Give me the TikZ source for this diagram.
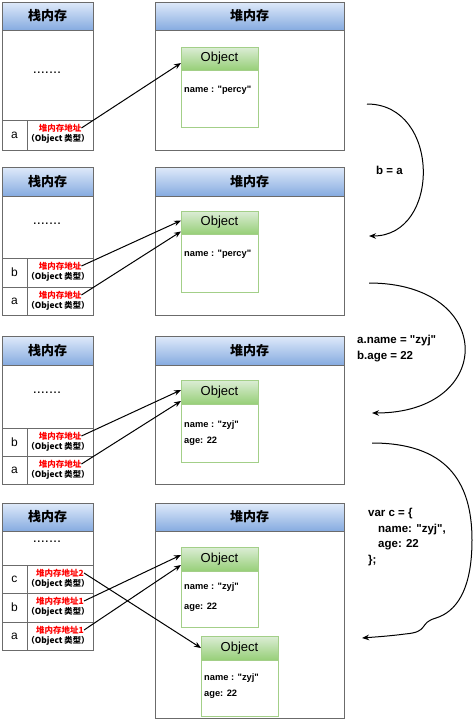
\documentclass[tikz,border=0pt]{standalone}
\usepackage{fontspec}
\setmainfont{Liberation Sans}
\newfontfamily\cjk{Noto Sans CJK SC}
\usetikzlibrary{calc,arrows.meta}
\definecolor{hdrtop}{HTML}{DFEAFA}
\definecolor{hdrbot}{HTML}{86ABE0}
\definecolor{objtop}{HTML}{DCEDD6}
\definecolor{objbot}{HTML}{97CF78}
\definecolor{objline}{HTML}{A3CF88}
\definecolor{boxline}{HTML}{6B6B6B}
\newcommand\qq{\XeTeXglyph\XeTeXcharglyph"22\relax}
\newcommand\mybox[7]{\node[#6, minimum width={(#4-#2)*1pt}, minimum height={(#5-#3)*1pt}] (#1) at ({(#2+#4)/2},{(#3+#5)/2}) {#7};}
\tikzset{
  cell/.style={draw=boxline, line width=0.9pt, inner sep=0, outer sep=0, fill=white},
  memhdr/.style={draw=boxline, line width=0.9pt, inner sep=0, outer sep=0, top color=hdrtop, bottom color=hdrbot, font=\cjk\bfseries\fontsize{13}{15}\selectfont},
  objhdr/.style={draw=objline, line width=0.9pt, inner sep=0, outer sep=0, top color=objtop, bottom color=objbot, font=\fontsize{13}{15}\selectfont},
  objbody/.style={draw=objline, line width=0.9pt, inner sep=0, outer sep=0, fill=white},
  varlbl/.style={font=\fontsize{12}{14}\selectfont},
  dotsrow/.style={font=\fontsize{14.5}{15}\selectfont, inner sep=0},
  addr/.style={text=red, font=\cjk\bfseries\fontsize{8.5}{9}\selectfont, inner sep=0},
  typ/.style={font=\cjk\bfseries\fontsize{8.3}{9}\selectfont, inner sep=0},
  field/.style={font=\bfseries\fontsize{9.3}{10}\selectfont, anchor=west, inner sep=0},
  ptr/.style={-{Stealth[length=7pt,width=5.5pt]}, line width=1pt},
  note/.style={font=\bfseries\fontsize{11.5}{16}\selectfont, anchor=west, inner sep=0, align=left},
}
\begin{document}
\begin{tikzpicture}[x=1pt,y=-1pt]
\fill[white] (0,0) rectangle (474,720);
\useasboundingbox (0,0) rectangle (474,720);
% ---------- panel 1
\mybox{s1h}{2}{2}{93}{30}{memhdr}{栈内存}
\mybox{s1b}{2}{30}{93}{120}{cell}{}
\mybox{s1la}{2}{120}{27}{150}{cell,varlbl}{a}
\mybox{s1ca}{27}{120}{93}{150}{cell}{}
\node[dotsrow] (s1d) at (47,73) {.......};
\node[addr] (s1ra) at (60,128) {堆内存地址};
\node[typ] (s1ta) at (58,139) {（Object 类型）};
\mybox{h1h}{155}{2}{344}{30}{memhdr}{堆内存}
\mybox{h1b}{155}{30}{344}{150}{cell}{}
\mybox{o1h}{181}{47}{258}{70}{objhdr}{Object}
\mybox{o1b}{181}{70}{258}{127}{objbody}{}
\node[field] (o1n) at (184,90) {name : \qq percy\qq};
\draw[ptr] (s1ra.east) -- ($(o1h.west)+(0,4.5)$);
% ---------- panel 2
\mybox{s2h}{2}{167}{93}{196}{memhdr}{栈内存}
\mybox{s2b}{2}{196}{93}{258}{cell}{}
\mybox{s2lb}{2}{258}{27}{287}{cell,varlbl}{b}
\mybox{s2cb}{27}{258}{93}{287}{cell}{}
\mybox{s2la}{2}{287}{27}{315}{cell,varlbl}{a}
\mybox{s2ca}{27}{287}{93}{315}{cell}{}
\node[dotsrow] (s2d) at (47,224) {.......};
\node[addr] (s2rb) at (60,266) {堆内存地址};
\node[typ] (s2tb) at (58,277) {（Object 类型）};
\node[addr] (s2ra) at (60,295) {堆内存地址};
\node[typ] (s2ta) at (58,306) {（Object 类型）};
\mybox{h2h}{155}{167}{344}{196}{memhdr}{堆内存}
\mybox{h2b}{155}{196}{344}{315}{cell}{}
\mybox{o2h}{181}{211}{258}{234}{objhdr}{Object}
\mybox{o2b}{181}{234}{258}{292}{objbody}{}
\node[field] (o2n) at (184,254) {name : \qq percy\qq};
\draw[ptr] (s2rb.east) -- ($(o2h.west)+(0,-2)$);
\draw[ptr] (s2ra.east) -- ($(o2h.west)+(0,9)$);
% ---------- panel 3
\mybox{s3h}{2}{336}{93}{365}{memhdr}{栈内存}
\mybox{s3b}{2}{365}{93}{428}{cell}{}
\mybox{s3lb}{2}{428}{27}{456}{cell,varlbl}{b}
\mybox{s3cb}{27}{428}{93}{456}{cell}{}
\mybox{s3la}{2}{456}{27}{484}{cell,varlbl}{a}
\mybox{s3ca}{27}{456}{93}{484}{cell}{}
\node[dotsrow] (s3d) at (47,393) {.......};
\node[addr] (s3rb) at (60,436) {堆内存地址};
\node[typ] (s3tb) at (58,447) {（Object 类型）};
\node[addr] (s3ra) at (60,464) {堆内存地址};
\node[typ] (s3ta) at (58,475) {（Object 类型）};
\mybox{h3h}{155}{336}{344}{365}{memhdr}{堆内存}
\mybox{h3b}{155}{365}{344}{484}{cell}{}
\mybox{o3h}{181}{380}{258}{404}{objhdr}{Object}
\mybox{o3b}{181}{404}{258}{462}{objbody}{}
\node[field] (o3n) at (184,425) {name : \qq zyj\qq};
\node[field] (o3a) at (184,441) {age: 22};
\draw[ptr] (s3rb.east) -- ($(o3h.west)+(0,-2)$);
\draw[ptr] (s3ra.east) -- ($(o3h.west)+(0,9)$);
% ---------- panel 4
\mybox{s4h}{2}{503}{93}{531}{memhdr}{栈内存}
\mybox{s4b}{2}{531}{93}{565}{cell}{}
\mybox{s4lc}{2}{565}{27}{593}{cell,varlbl}{c}
\mybox{s4cc}{27}{565}{93}{593}{cell}{}
\mybox{s4lb}{2}{593}{27}{622}{cell,varlbl}{b}
\mybox{s4cb}{27}{593}{93}{622}{cell}{}
\mybox{s4la}{2}{622}{27}{650}{cell,varlbl}{a}
\mybox{s4ca}{27}{622}{93}{650}{cell}{}
\node[dotsrow] (s4d) at (47,542) {.......};
\node[addr] (s4rc) at (60,573) {堆内存地址2};
\node[typ] (s4tc) at (58,584) {（Object 类型）};
\node[addr] (s4rb) at (60,601) {堆内存地址1};
\node[typ] (s4tb) at (58,612) {（Object 类型）};
\node[addr] (s4ra) at (60,630) {堆内存地址1};
\node[typ] (s4ta) at (58,641) {（Object 类型）};
\mybox{h4h}{155}{503}{344}{531}{memhdr}{堆内存}
\mybox{h4b}{155}{531}{344}{718}{cell}{}
\mybox{o4h}{181}{547}{258}{571}{objhdr}{Object}
\mybox{o4b}{181}{571}{258}{627}{objbody}{}
\node[field] (o4n) at (184,587) {name : \qq zyj\qq};
\node[field] (o4a) at (184,607) {age: 22};
\mybox{o5h}{201}{636}{278}{660}{objhdr}{Object}
\mybox{o5b}{201}{660}{278}{716}{objbody}{}
\node[field] (o5n) at (204,678) {name : \qq zyj\qq};
\node[field] (o5a) at (204,694) {age: 22};
\draw[ptr] (s4rb.east) -- ($(o4h.west)+(0,-4)$);
\draw[ptr] (s4ra.east) -- ($(o4h.west)+(0,6)$);
\draw[ptr] (s4rc.east) -- (o5h.west);
% ---------- transitions
\coordinate (c1s) at (367,104);
\coordinate (c1e) at (369,236);
\draw[ptr] (c1s) .. controls (441,104) and (441,236) .. (c1e);
\node[note] (n1) at (376,170) {b = a};
\coordinate (c2s) at (369,283);
\coordinate (c2e) at (372,413);
\draw[ptr] (c2s) .. controls (496,283) and (496,413) .. (c2e);
\node[note] (n2) at (357,349) {a.name = \qq zyj\qq\\b.age = 22};
\coordinate (c3s) at (372,443);
\coordinate (c3e) at (362,638);
\draw[ptr] (c3s) .. controls (445,443) and (472,480) .. (472,540)
  .. controls (472,592) and (455,612) .. (436,618)
  .. controls (418,623) and (430,632) .. (405,634)
  .. controls (390,636) and (375,637) .. (c3e);
\node[note, font=\bfseries\fontsize{11.5}{15.5}\selectfont] (n3) at (368,537) {var c = \{\\\hspace*{10pt}name: \qq zyj\qq,\\\hspace*{10pt}age: 22\\\};};
\end{tikzpicture}
\end{document}
